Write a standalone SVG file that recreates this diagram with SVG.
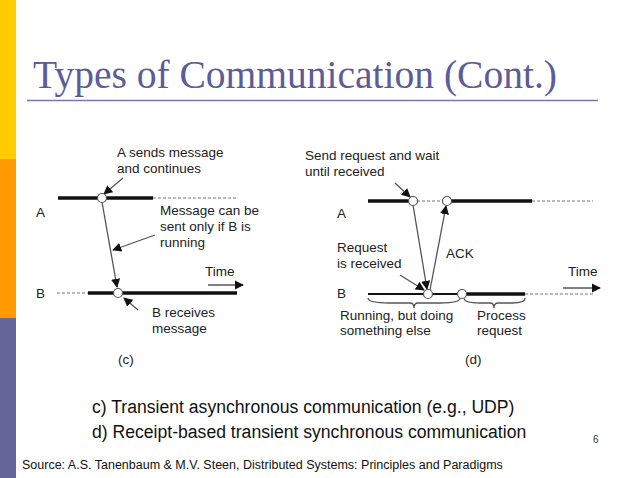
<svg xmlns="http://www.w3.org/2000/svg" width="638" height="478" viewBox="0 0 638 478">
<style>
.t{font-family:"Liberation Sans",Arial,sans-serif;font-size:13.5px;fill:#222}
.k{stroke:#111;stroke-width:3.5}
.d{stroke:#777;stroke-width:1;stroke-dasharray:3,2}
.m{stroke:#555;stroke-width:1.3;fill:none}
.c{fill:#fff;stroke:#555;stroke-width:1.2}
</style>
<defs><marker id="ah" viewBox="0 0 10 10" refX="9" refY="5" markerWidth="7" markerHeight="7" orient="auto"><path d="M0,0L10,5L0,10z" fill="#111"/></marker></defs>
<rect width="638" height="478" fill="#fff"/>
<rect x="0" y="0" width="16" height="159" fill="#ffcc00"/>
<rect x="0" y="159" width="16" height="159" fill="#ff9900"/>
<rect x="0" y="318" width="16" height="160" fill="#66669a"/>
<text x="33" y="88" font-family="Liberation Serif,serif" font-size="40" fill="#5c5c99" textLength="524" lengthAdjust="spacingAndGlyphs">Types of Communication (Cont.)</text>
<line x1="27" y1="100.5" x2="598" y2="100.5" stroke="#7777aa" stroke-width="1.5"/>
<g id="connectors">
<line class="k" x1="58" y1="198" x2="153" y2="198"/><line class="d" x1="153" y1="198" x2="238" y2="198"/>
<line class="d" x1="57" y1="293" x2="88" y2="293"/><line class="k" x1="88" y1="293" x2="237" y2="293"/>
<line class="m" x1="102" y1="202" x2="117" y2="287" marker-end="url(#ah)"/>
<line class="m" x1="208" y1="285" x2="243" y2="285" marker-end="url(#ah)"/>
<line class="m" x1="123" y1="178" x2="104" y2="194" marker-end="url(#ah)"/>
<line class="m" x1="155" y1="235" x2="113" y2="250" marker-end="url(#ah)"/>
<line class="m" x1="138" y1="310" x2="124" y2="298" marker-end="url(#ah)"/>
<line class="k" x1="368" y1="201" x2="410" y2="201"/><line class="d" x1="417" y1="201" x2="443" y2="201"/>
<line class="k" x1="450" y1="201" x2="532" y2="201"/><line class="d" x1="532" y1="201" x2="593" y2="201"/>
<line stroke="#111" stroke-width="2" x1="368" y1="294" x2="462" y2="294"/>
<line class="k" x1="466" y1="294" x2="525" y2="294"/><line class="d" x1="525" y1="294" x2="593" y2="294"/>
<line class="m" x1="413" y1="205" x2="427" y2="289" marker-end="url(#ah)"/>
<line class="m" x1="430" y1="290" x2="446" y2="206" marker-end="url(#ah)"/>
<line class="m" x1="563" y1="288" x2="600" y2="288" marker-end="url(#ah)"/>
<line class="m" x1="395" y1="183" x2="410" y2="197" marker-end="url(#ah)"/>
<line class="m" x1="400" y1="275" x2="424" y2="290" marker-end="url(#ah)"/>
<path class="m" d="M368,298 Q368,303 390,303 L410,303 Q414,303 414,308 Q414,303 418,303 L440,303 Q460,303 460,298"/>
<path class="m" d="M464,298 Q464,303 480,303 L490,303 Q494,303 494,308 Q494,303 498,303 L512,303 Q525,303 525,298"/>
</g>
<g id="nodeA1"><circle class="c" cx="102" cy="198" r="4.5"/></g>
<g id="nodeB1"><circle class="c" cx="118" cy="293" r="4.5"/></g>
<g id="nodeA2"><circle class="c" cx="413" cy="201" r="4.5"/><circle class="c" cx="447" cy="201" r="4.5"/></g>
<g id="nodeB2"><circle class="c" cx="428" cy="294" r="4.5"/><circle class="c" cx="462" cy="294" r="4.5"/></g>
<g id="labels">
<text class="t" x="36" y="217">A</text><text class="t" x="36" y="298">B</text>
<text class="t" x="117" y="157">A sends message</text><text class="t" x="117" y="173">and continues</text>
<text class="t" x="160" y="215">Message can be</text><text class="t" x="160" y="231">sent only if B is</text><text class="t" x="160" y="247">running</text>
<text class="t" x="205" y="276">Time</text>
<text class="t" x="152" y="317">B receives</text><text class="t" x="152" y="333">message</text>
<text class="t" x="118" y="364">(c)</text>
<text class="t" x="305" y="160">Send request and wait</text><text class="t" x="305" y="176">until received</text>
<text class="t" x="337" y="218">A</text><text class="t" x="337" y="298">B</text>
<text class="t" x="337" y="252">Request</text><text class="t" x="337" y="268">is received</text>
<text class="t" x="446" y="258">ACK</text>
<text class="t" x="568" y="276">Time</text>
<text class="t" x="340" y="320">Running, but  doing</text><text class="t" x="340" y="335">something else</text>
<text class="t" x="477" y="320">Process</text><text class="t" x="477" y="335">request</text>
<text class="t" x="465" y="364">(d)</text>
</g>
<text x="92" y="413" font-family="Liberation Sans,Arial,sans-serif" font-size="17.6" fill="#111">c) Transient asynchronous communication (e.g., UDP)</text>
<text x="92" y="438" font-family="Liberation Sans,Arial,sans-serif" font-size="17.6" fill="#111">d) Receipt-based transient synchronous communication</text>
<text x="593" y="443" font-family="Liberation Sans,Arial,sans-serif" font-size="10" fill="#333">6</text>
<text x="22" y="469" font-family="Liberation Sans,Arial,sans-serif" font-size="12.5" fill="#111">Source: A.S. Tanenbaum &amp; M.V. Steen, Distributed Systems: Principles and Paradigms</text>
</svg>
